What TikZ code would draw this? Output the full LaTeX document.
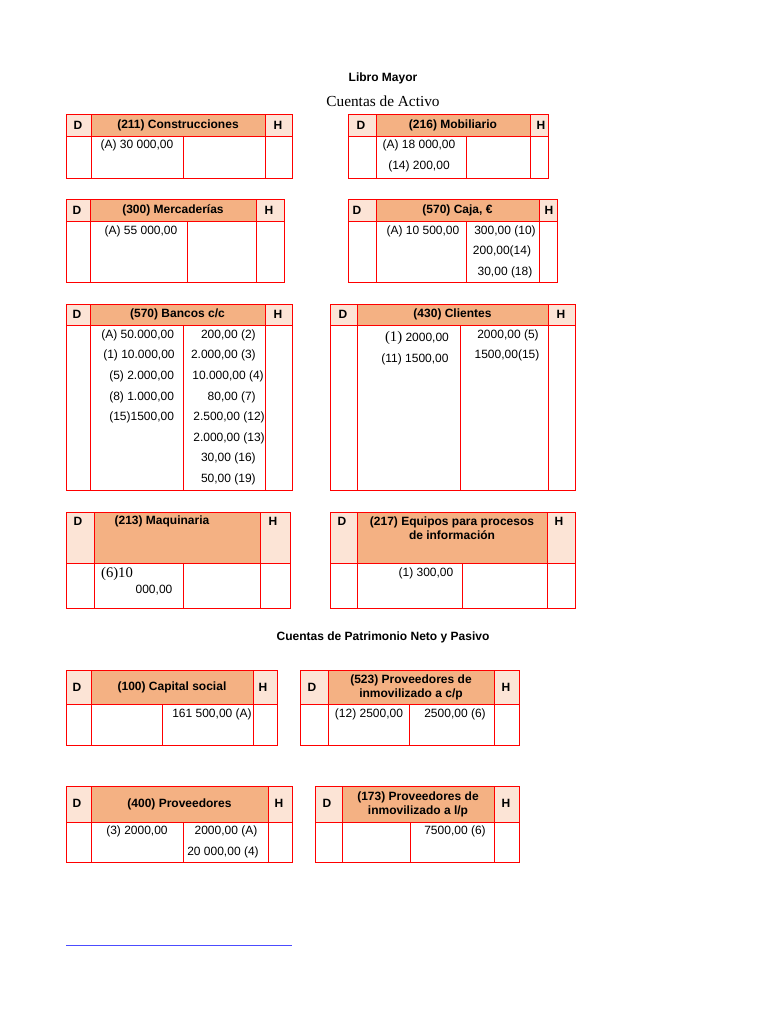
\documentclass[tikz,border=0pt]{standalone}
\usepackage{fontspec}
\setmainfont{Liberation Sans}
\newfontfamily\serifont{Liberation Serif}
\definecolor{hd}{HTML}{F4B183}
\definecolor{lt}{HTML}{FCE4D6}
\definecolor{rd}{HTML}{FF0000}
\newcommand{\tacc}[9]{% x0 x1 x2 x3 x4 ytop yhead ybot title
  \fill[lt] (#1,#6) rectangle (#2,#7);
  \fill[lt] (#4,#6) rectangle (#5,#7);
  \fill[hd] (#2,#6) rectangle (#4,#7);
  \draw[rd] (#1,#6) rectangle (#5,#8);
  \draw[rd] (#1,#7) -- (#5,#7);
  \draw[rd] (#2,#6) -- (#2,#8);
  \draw[rd] (#4,#6) -- (#4,#8);
  \draw[rd] (#3,#7) -- (#3,#8);
  \node[tt] at ({(#2+#4)/2},{(#6+#7)/2}) {#9};
}
\begin{document}
\begin{tikzpicture}[x=0.75pt,y=-0.75pt,
  tt/.style={font=\fontsize{9}{10.5}\selectfont\bfseries,align=center,inner sep=0pt},
  dh/.style={font=\fontsize{9}{10}\selectfont\bfseries,inner sep=0pt},
  en/.style={font=\fontsize{9}{10}\selectfont,inner sep=0pt}]
\useasboundingbox (0,0) rectangle (768,1024);
\node[dh] (lm) at (383,78) {Libro Mayor};
\node[inner sep=0pt,font=\serifont\fontsize{11.5}{13}\selectfont] (ca) at (383,101) {Cuentas de Activo};
% 211
\tacc{66}{91}{183}{265}{292}{114}{136}{178}{(211) Construcciones}
\node[dh] (d1) at (78,125) {D}; \node[dh] (h1) at (278,125) {H};
\node[en] (e1) at (137,145) {(A) 30 000,00};
% 216
\tacc{348}{376}{466}{530}{548}{114}{136}{178}{(216) Mobiliario}
\node[dh] (d2) at (361,125) {D}; \node[dh] (h2) at (541,125) {H};
\node[en] (e2a) at (419,145) {(A) 18 000,00};
\node[en] (e2b) at (419,166) {(14) 200,00};
% 300
\tacc{66}{90}{187}{256}{284}{199}{221}{282}{(300) Mercaderías}
\node[dh] (d3) at (77,210) {D}; \node[dh] (h3) at (269,210) {H};
\node[en] (e3) at (141,231) {(A) 55 000,00};
% 570 caja
\tacc{348}{376}{466}{539}{557}{199}{221}{282}{(570) Caja, €}
\node[dh] (d4) at (357,210) {D}; \node[dh] (h4) at (549,210) {H};
\node[en] (e4a) at (423,231) {(A) 10 500,00};
\node[en] (e4b) at (505,231) {300,00 (10)};
\node[en] (e4c) at (502,251) {200,00(14)};
\node[en] (e4d) at (505,272) {30,00 (18)};
% bancos
\tacc{66}{90}{183}{265}{292}{304}{325}{490}{(570) Bancos c/c}
\node[dh] (d5) at (77,314) {D}; \node[dh] (h5) at (278,314) {H};
\node[en,anchor=west] (b1) at (101,335) {(A) 50.000,00};
\node[en,anchor=west] (b2) at (103,355) {(1) 10.000,00};
\node[en,anchor=west] (b3) at (109,376) {(5) 2.000,00};
\node[en,anchor=west] (b4) at (109,397) {(8) 1.000,00};
\node[en,anchor=west] (b5) at (109,417) {(15)1500,00};
\node[en,anchor=east] (c1) at (256,335) {200,00 (2)};
\node[en,anchor=east] (c2) at (256,355) {2.000,00 (3)};
\node[en,anchor=east] (c3) at (264,376) {10.000,00 (4)};
\node[en,anchor=east] (c4) at (256,397) {80,00 (7)};
\node[en,anchor=east] (c5) at (265,417) {2.500,00 (12)};
\node[en,anchor=east] (c6) at (265,438) {2.000,00 (13)};
\node[en,anchor=east] (c7) at (256,458) {30,00 (16)};
\node[en,anchor=east] (c8) at (256,479) {50,00 (19)};
% clientes
\tacc{330}{357}{460}{548}{575}{304}{325}{490}{(430) Clientes}
\node[dh] (d6) at (343,314) {D}; \node[dh] (h6) at (561,314) {H};
\node[en] (k1) at (417,338) {{\serifont\fontsize{11}{12}\selectfont(1)} 2000,00};
\node[en] (k2) at (415,359) {(11) 1500,00};
\node[en] (k3) at (508,335) {2000,00 (5)};
\node[en] (k4) at (507,355) {1500,00(15)};
% 213
\tacc{66}{94}{183}{260}{290}{512}{563}{608}{}
\node[dh] (d7) at (78,521) {D}; \node[dh] (h7) at (273,521) {H};
\node[tt] (t7) at (162,521) {(213) Maquinaria};
\node[inner sep=0pt,font=\serifont\fontsize{11}{12}\selectfont] (m1) at (117,574) {(6)10};
\node[en] (m2) at (154,590) {000,00};
% 217
\tacc{330}{357}{462}{547}{575}{512}{563}{608}{}
\node[dh] (d8) at (342,521) {D}; \node[dh] (h8) at (559,521) {H};
\node[tt] (t8) at (452,528) {(217) Equipos para procesos\\de información};
\node[en] (q1) at (426,573) {(1) 300,00};
\node[dh] (pn) at (383,637) {Cuentas de Patrimonio Neto y Pasivo};
% 100
\tacc{66}{91}{162}{253}{277}{670}{704}{745}{(100) Capital social}
\node[dh] (d9) at (77,687) {D}; \node[dh] (h9) at (263,687) {H};
\node[en] (p1) at (212,714) {161 500,00 (A)};
% 523
\tacc{300}{328}{409}{494}{519}{670}{704}{745}{(523) Proveedores de\\inmovilizado a c/p}
\node[dh] (d10) at (312,687) {D}; \node[dh] (h10) at (506,687) {H};
\node[en] (r1) at (369,714) {(12) 2500,00};
\node[en] (r2) at (455,714) {2500,00 (6)};
% 400
\tacc{66}{91}{183}{268}{292}{786}{822}{862}{(400) Proveedores}
\node[dh] (d11) at (77,803) {D}; \node[dh] (h11) at (279,803) {H};
\node[en] (s1) at (137,831) {(3) 2000,00};
\node[en] (s2) at (226,831) {2000,00 (A)};
\node[en] (s3) at (223,852) {20 000,00 (4)};
% 173
\tacc{315}{342}{410}{494}{519}{786}{822}{862}{(173) Proveedores de\\inmovilizado a l/p}
\node[dh] (d12) at (327,803) {D}; \node[dh] (h12) at (506,803) {H};
\node[en] (u1) at (455,831) {7500,00 (6)};
\coordinate (la) at (66,945); \coordinate (lb) at (292,945);
\draw[blue!70!white,line width=0.6pt] (la) -- (lb);
\end{tikzpicture}
\end{document}
